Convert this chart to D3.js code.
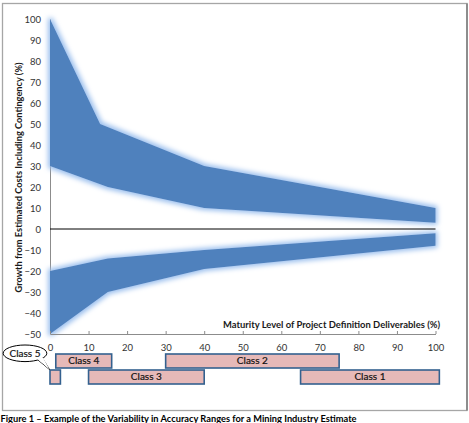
<!DOCTYPE html>
<html><head><meta charset="utf-8">
<script src="https://cdn.jsdelivr.net/npm/d3@7"></script>
<style>
html,body{margin:0;padding:0;background:#fff;}
svg{display:block;font-family:Lato,"Open Sans",sans-serif;}
</style></head>
<body>
<svg id="chart" width="469" height="423"></svg>
<script>
// ---- data ----
const upperTopX = [0, 13, 40, 100];
const upperTopY = [100, 50, 30, 10];
const upperBotX = [0, 15, 40, 100];
const upperBotY = [30, 20, 10, 3];
const lowerTopX = [0, 15, 40, 100];
const lowerTopY = [-20, -14, -10, -2];
const lowerBotX = [0, 15, 40, 100];
const lowerBotY = [-50, -30, -19, -8];
const yTickValues = [100, 90, 80, 70, 60, 50, 40, 30, 20, 10, 0, -10, -20, -30, -40, -50];
const xTickValues = [0, 10, 20, 30, 40, 50, 60, 70, 80, 90, 100];
const classNames = ["Class 5", "Class 4", "Class 3", "Class 2", "Class 1"];
const classStart = [0, 1.5, 10, 30, 65];
const classEnd   = [2.7, 16, 40, 75, 101];
const classRow   = [1, 0, 1, 0, 1];
const xTitle = "Maturity Level of Project Definition Deliverables (%)";
const yTitle = "Growth from Estimated Costs Including Contingency (%)";
const caption = "Figure 1 \u2013 Example of the Variability in Accuracy Ranges for a Mining Industry Estimate";

const svg = d3.select("#chart");
const x = d3.scaleLinear().domain([0, 100]).range([50, 435.5]);
const y = d3.scaleLinear().domain([-50, 100]).range([334, 19]);

// glow filter
const defs = svg.append("defs");
const f = defs.append("filter").attr("id", "glow")
  .attr("x", "-20%").attr("y", "-20%").attr("width", "140%").attr("height", "140%");
f.append("feMorphology").attr("in", "SourceAlpha").attr("operator", "dilate").attr("radius", 2.2).attr("result", "d");
f.append("feGaussianBlur").attr("in", "d").attr("stdDeviation", 2.4).attr("result", "b");
f.append("feFlood").attr("flood-color", "#9cc0ee").attr("result", "c");
f.append("feComposite").attr("in", "c").attr("in2", "b").attr("operator", "in").attr("result", "g");
const m = f.append("feMerge");
m.append("feMergeNode").attr("in", "g");
m.append("feMergeNode").attr("in", "SourceGraphic");

// frame
svg.append("rect").attr("x", 2.5).attr("y", 3.5).attr("width", 464.5).attr("height", 407)
  .attr("fill", "#fff").attr("stroke", "#a6a6a6").attr("stroke-width", 1.3);
svg.append("line").attr("x1", 467).attr("x2", 467).attr("y1", 3.5).attr("y2", 410.5)
  .attr("stroke", "#7f7f7f").attr("stroke-width", 1.6);

// y axis
const yAxis = svg.append("g").attr("transform", `translate(${x(0)},0)`)
  .call(d3.axisLeft(y).tickValues(yTickValues).tickSize(0).tickPadding(9).tickFormat(d3.format("d")));
yAxis.select(".domain").attr("stroke", "#8c8c8c");
yAxis.selectAll("text").attr("font-size", 9.5).attr("fill", "#333").attr("font-family", "Lato");

// bands
function band(tx, ty, bx, by) {
  const top = tx.map((v, i) => [x(v), y(ty[i])]);
  const bot = bx.map((v, i) => [x(v), y(by[i])]).reverse();
  return d3.line()(top.concat(bot)) + "Z";
}
svg.append("path").attr("d", band(upperTopX, upperTopY, upperBotX, upperBotY))
  .attr("fill", "#4f81bd").attr("filter", "url(#glow)");
svg.append("path").attr("d", band(lowerTopX, lowerTopY, lowerBotX, lowerBotY))
  .attr("fill", "#4f81bd").attr("filter", "url(#glow)");

// zero line
svg.append("line").attr("x1", x(0)).attr("x2", x(100)).attr("y1", y(0)).attr("y2", y(0))
  .attr("stroke", "#000").attr("stroke-width", 1);

// x axis at y=-50
const xAxis = svg.append("g").attr("transform", `translate(0,${y(-50)})`)
  .call(d3.axisBottom(x).tickValues(xTickValues).tickSizeInner(-3).tickSizeOuter(0).tickPadding(10.5));
xAxis.select(".domain").attr("stroke", "#8c8c8c");
xAxis.selectAll(".tick line").attr("stroke", "#8c8c8c");
xAxis.selectAll("text").attr("font-size", 9.5).attr("fill", "#333").attr("font-family", "Lato");

// titles
svg.append("text").attr("x", 440).attr("y", 327.5).attr("text-anchor", "end")
  .attr("font-size", 10).attr("font-weight", "bold").attr("fill", "#1a1a1a")
  .attr("textLength", 217).attr("lengthAdjust", "spacingAndGlyphs").text(xTitle);
svg.append("text").attr("transform", "translate(21.5,177.5) rotate(-90)").attr("text-anchor", "middle")
  .attr("font-size", 10).attr("font-weight", "bold").attr("fill", "#1a1a1a")
  .attr("textLength", 230).attr("lengthAdjust", "spacingAndGlyphs").text(yTitle);

// class boxes
const rowY = [354, 370];
const rowH = 14;
const cls = svg.append("g").selectAll("g").data(classNames).join("g");
cls.append("rect")
  .attr("x", (d, i) => x(classStart[i]))
  .attr("y", (d, i) => rowY[classRow[i]])
  .attr("width", (d, i) => x(classEnd[i]) - x(classStart[i]))
  .attr("height", rowH)
  .attr("fill", "#e6b9b8").attr("stroke", "#34618f").attr("stroke-width", 1.6);
cls.filter((d, i) => i > 0).append("text")
  .attr("x", (d, i) => (x(classStart[i + 1]) + x(classEnd[i + 1])) / 2)
  .attr("y", (d, i) => rowY[classRow[i + 1]] + rowH / 2 + 3.4)
  .attr("text-anchor", "middle").attr("font-size", 10).attr("fill", "#111")
  .attr("stroke", "#111").attr("stroke-width", 0.2).text(d => d);

// callout for Class 5
svg.append("path")
  .attr("d", "M37.5,359.5 L49.5,369.5 L42.5,358.2")
  .attr("fill", "#fff").attr("stroke", "#000").attr("stroke-width", 1);
svg.append("ellipse").attr("cx", 25).attr("cy", 353.3).attr("rx", 21.8).attr("ry", 8.3)
  .attr("fill", "#fff").attr("stroke", "#000").attr("stroke-width", 1);
svg.append("path")
  .attr("d", "M37.0,358.8 L49.5,369.5 L43.0,357.6")
  .attr("fill", "#fff").attr("stroke", "none");
svg.append("text").attr("x", 25).attr("y", 356.8).attr("text-anchor", "middle")
  .attr("font-size", 10).attr("fill", "#111").attr("stroke", "#111").attr("stroke-width", 0.2)
  .text(classNames[0]);

// caption
svg.append("text").attr("x", 0.5).attr("y", 421.5).attr("font-size", 10).attr("font-weight", "bold")
  .attr("fill", "#000").attr("textLength", 356).attr("lengthAdjust", "spacingAndGlyphs").text(caption);
</script>
</body></html>
